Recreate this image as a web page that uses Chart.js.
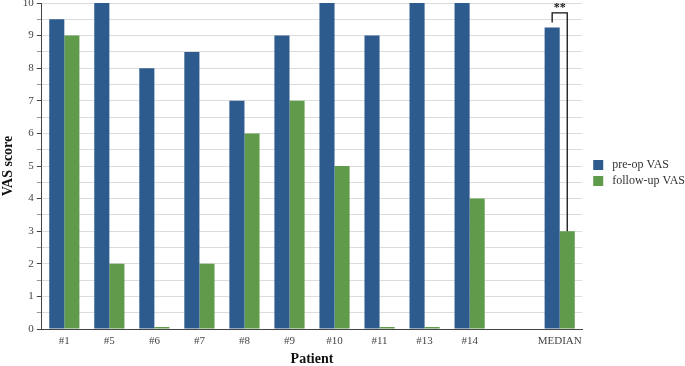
<!DOCTYPE html>
<html><head><meta charset="utf-8">
<script src="https://cdn.jsdelivr.net/npm/chart.js@4"></script>
<style>html,body{margin:0;padding:0;background:#fff}#c{display:block}</style>
</head><body>
<canvas id="c" width="685" height="366"></canvas>
<script>
const categories = ['#1','#5','#6','#7','#8','#9','#10','#11','#13','#14','','MEDIAN'];
const preOp = [9.5,10,8,8.5,7,9,10,9,10,10,null,9.25];
const followUp = [9,2,0,2,6,7,5,0,0,4,null,3];
const yTicks = [0,1,2,3,4,5,6,7,8,9,10];
const seriesNames = ['pre-op VAS','follow-up VAS'];
const FONT = "'Liberation Serif', serif";

const bracket = {
  id:'bracket',
  afterDatasetsDraw(chart){
    const ctx = chart.ctx;
    const m0 = chart.getDatasetMeta(0).data[11];
    const m1 = chart.getDatasetMeta(1).data[11];
    const y = chart.scales.y;
    const top = y.getPixelForValue(9.7);
    ctx.save();
    ctx.strokeStyle = '#111'; ctx.lineWidth = 1.3;
    ctx.beginPath();
    ctx.moveTo(m0.x, m0.y - 5);
    ctx.lineTo(m0.x, top);
    ctx.lineTo(m1.x, top);
    ctx.lineTo(m1.x, m1.y);
    ctx.stroke();
    ctx.fillStyle = '#111';
    ctx.font = "bold 12px " + FONT;
    ctx.textAlign = 'center'; ctx.textBaseline = 'bottom';
    ctx.fillText('**', (m0.x + m1.x)/2, top + 1);
    ctx.restore();
  }
};

const legendShift = {
  id:'legendShift',
  afterLayout(chart){
    const lg = chart.legend;
    if (lg) { lg.left += 7; lg.right += 7; lg.top -= 11; lg.bottom -= 11; }
  }
};

new Chart(document.getElementById('c'), {
  type:'bar',
  data:{
    labels: categories,
    datasets:[
      {label:' ' + seriesNames[0], data:preOp, backgroundColor:'#2d5b8e', borderColor:'#2d5b8e', borderWidth:0},
      {label:' ' + seriesNames[1], data:followUp, backgroundColor:'#5f9b4a', borderColor:'#5f9b4a', borderWidth:0}
    ]
  },
  plugins:[bracket, legendShift],
  options:{
    responsive:false, animation:false,
    layout:{padding:{left:0,right:-3,top:0,bottom:-2}},
    datasets:{bar:{categoryPercentage:0.67, barPercentage:1, minBarLength:2}},
    plugins:{
      legend:{position:'right', align:'center',
        labels:{font:{family:FONT,size:12}, color:'#333', boxWidth:10, boxHeight:10, padding:4}},
      tooltip:{enabled:false}
    },
    scales:{
      x:{
        grid:{display:false, drawTicks:false, tickLength:0},
        border:{color:'#444', width:1},
        ticks:{font:{family:FONT,size:11}, color:'#444', maxRotation:0, autoSkip:false, padding:6},
        title:{display:true, text:'Patient', font:{family:FONT,size:14,weight:'bold'}, color:'#111', padding:{top:-3,bottom:0}}
      },
      y:{
        min:0, max:10,
        afterBuildTicks(axis){
          const t=[]; for(let v=0; v<=20; v++) t.push({value:v/2});
          axis.ticks = t;
        },
        afterFit(axis){ axis.paddingTop = 3; },
        grid:{color:'#dcdcdc', lineWidth:1, tickLength:5,
          tickColor:(c)=> (c.tick && Number.isInteger(c.tick.value)) ? '#444' : '#999'},
        border:{color:'#444', width:1},
        ticks:{font:{family:FONT,size:11}, color:'#444', padding:3,
          callback:(v)=> yTicks.includes(v) ? String(v) : ''},
        title:{display:true, text:'VAS score', font:{family:FONT,size:14,weight:'bold'}, color:'#111', padding:{top:0,bottom:3}}
      }
    }
  }
});
</script>
</body></html>
